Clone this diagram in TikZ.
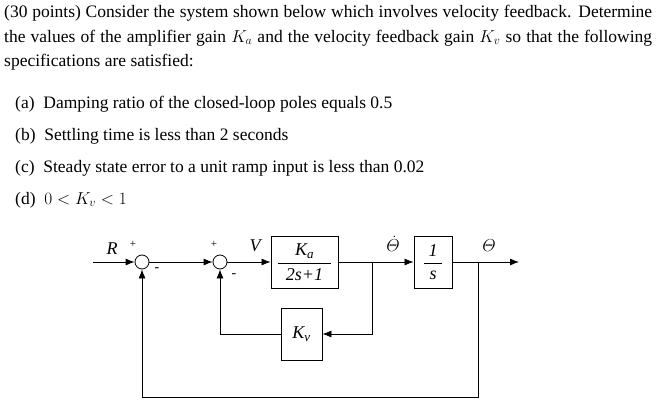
\documentclass[tikz,border=0pt]{standalone}
\usepackage{amsmath}
\usepackage{fontspec}
\setmainfont{Liberation Serif}
\usetikzlibrary{arrows.meta}
\begin{document}
\begin{tikzpicture}[x=1pt,y=-1pt,
  blk/.style={draw,line width=0.9pt,inner sep=0pt},
  sumj/.style={draw,circle,minimum size=14pt,inner sep=0pt,line width=0.8pt},
  ln/.style={line width=0.8pt},
  arr/.style={ln,-{Latex[length=9pt,width=7pt]}},
  lab/.style={font=\itshape\fontsize{18}{18}\selectfont,inner sep=0pt},
  txt/.style={anchor=base west,inner sep=0pt,font=\fontsize{17.5}{20}\selectfont}]
\useasboundingbox (0,0) rectangle (656,412);
\node[anchor=north west,inner sep=0pt,text width=648pt,align=justify,font=\fontsize{17.5}{24.5}\selectfont] (para) at (4,5)
 {(30 points) Consider the system shown below which involves velocity feedback. Determine the values of the amplifier gain $K_a$ and the velocity feedback gain $K_v$ so that the following specifications are satisfied:};
\node[txt] (ia) at (15,108) {(a)\ \ Damping ratio of the closed-loop poles equals 0.5};
\node[txt] (ib) at (15,140) {(b)\ \ Settling time is less than 2 seconds};
\node[txt] (ic) at (15,172) {(c)\ \ Steady state error to a unit ramp input is less than 0.02};
\node[txt] (id) at (15,204) {(d)\ \ $0<K_v<1$};
% diagram
\node[sumj] (s1) at (142,262) {};
\node[sumj] (s2) at (220,262) {};
\node[blk,minimum width=67pt,minimum height=52pt] (g1) at (304.5,262) {};
\draw[ln] (278,263) -- (331,263);
\node[lab] (g1n) at (304.5,251) {K\textsubscript{\fontsize{13}{13}\selectfont a}};
\node[lab] (g1d) at (304.5,275) {2s+1};
\node[blk,minimum width=38pt,minimum height=52pt] (g2) at (433,262) {};
\draw[ln] (424,263) -- (442,263);
\node[lab] (g2n) at (433,251) {1};
\node[lab] (g2d) at (433,275) {s};
\node[blk,minimum width=41pt,minimum height=52pt,font=\itshape\fontsize{18}{18}\selectfont] (kv) at (301.5,334) {K\textsubscript{\fontsize{13}{13}\selectfont v}};
\coordinate (in) at (93,262);
\coordinate (out) at (519,262);
\coordinate (b1) at (372,262);
\coordinate (b2) at (478,262);
\draw[arr] (in) -- (s1.west);
\draw[arr] (s1.east) -- (s2.west);
\draw[arr] (s2.east) -- (g1.west);
\draw[arr] (g1.east) -- (g2.west);
\draw[arr] (g2.east) -- (out);
\draw[arr] (b1) |- (kv.east);
\draw[arr] (kv.west) -| (s2.south);
\draw[arr] (b2) |- (142,397) -- (s1.south);
\node[lab] (lR) at (112,249) {R};
\node[font=\fontsize{11}{11}\selectfont,inner sep=0pt] (p1) at (133,244) {+};
\node[font=\fontsize{14}{14}\selectfont,inner sep=0pt] (m1) at (157,270) {-};
\node[font=\fontsize{11}{11}\selectfont,inner sep=0pt] (p2) at (214,244) {+};
\node[font=\fontsize{14}{14}\selectfont,inner sep=0pt] (m2) at (234,276) {-};
\node[lab] (lV) at (255,246) {V};
\node[font=\fontsize{18}{18}\selectfont,inner sep=0pt] (lT1) at (393,244) {$\dot{\varTheta}$};
\node[font=\fontsize{18}{18}\selectfont,inner sep=0pt] (lT2) at (489,246) {$\varTheta$};
\end{tikzpicture}
\end{document}
